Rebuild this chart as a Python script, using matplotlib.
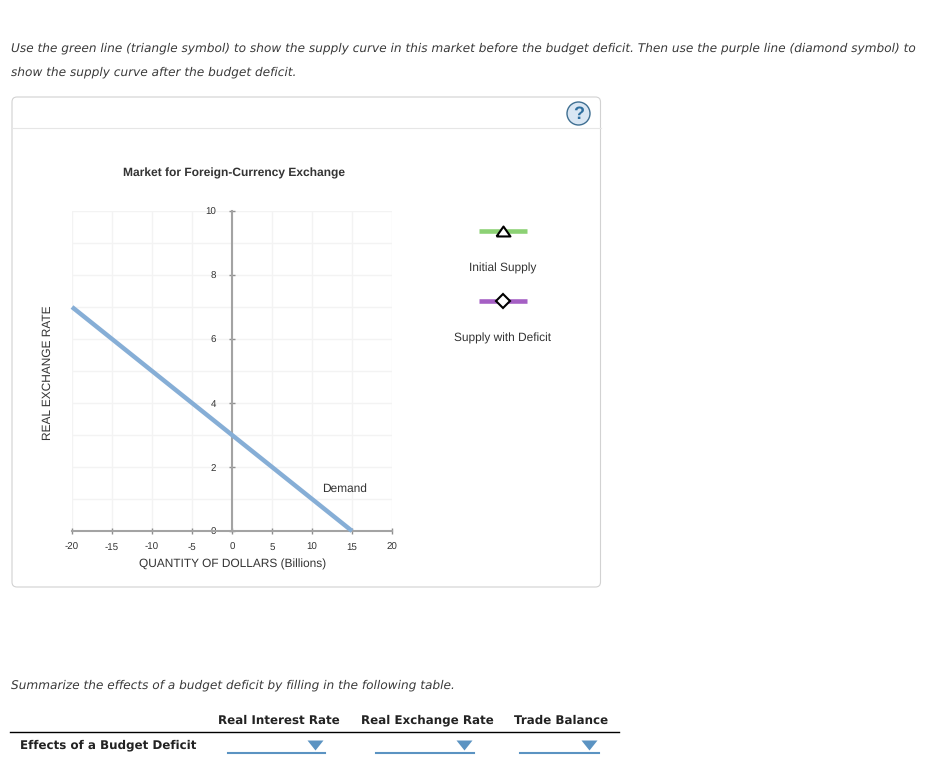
import matplotlib
matplotlib.use('Agg')
import matplotlib.pyplot as plt
from matplotlib.patches import FancyBboxPatch, Circle

plt.rcParams['font.family'] = 'Liberation Sans'
plt.rcParams['axes.unicode_minus'] = False
plt.rcParams['text.hinting'] = 'no_hinting'

W, H = 926, 779

# data
demand_x = [-20, 15]
demand_y = [7, 0]
x_ticks = [-20, -15, -10, -5, 0, 5, 10, 15, 20]
y_ticks = [0, 2, 4, 6, 8, 10]
y_grid = [0, 1, 2, 3, 4, 5, 6, 7, 8, 9, 10]
table_headers = ['Real Interest Rate', 'Real Exchange Rate', 'Trade Balance']
table_row = 'Effects of a Budget Deficit'

fig = plt.figure(figsize=(W / 100, H / 100), dpi=100, facecolor='white')

# overlay in pixel coords for the page parts
page = fig.add_axes([0, 0, 1, 1])
page.set_xlim(0, W)
page.set_ylim(H, 0)
page.axis('off')

TXT = '#333333'
prompt = dict(family='DejaVu Sans', style='italic', fontsize=8.69, color='#3a3a3a', va='center')
page.text(11, 48, 'Use the green line (triangle symbol) to show the supply curve in this market before the budget deficit. '
          'Then use the purple line (diamond symbol) to', **prompt)
page.text(11, 72, 'show the supply curve after the budget deficit.', **prompt)
page.text(11, 685, 'Summarize the effects of a budget deficit by filling in the following table.', **prompt)

# panel
panel = FancyBboxPatch((12, 97), 588.5, 490, boxstyle='round,pad=0,rounding_size=5',
                       fc='white', ec='#d2d2d2', lw=0.8)
page.add_patch(panel)
page.plot([12, 600.5], [128, 128], color='#e6e6e6', lw=0.8)

# help button
page.add_patch(Circle((578.5, 113.5), 11.5, fc='#d9e6f3', ec='#3f6f92', lw=1))
page.text(578.5, 114, '?', fontsize=13, fontweight='bold', color='#2f6f9f', ha='center', va='center')

# legend
sans = dict(color=TXT)
flat_triangle = [(-7, -5), (7, -5), (0, 5), (-7, -5)]
page.plot([479, 527], [231, 231], color='#8cd174', lw=3.3, solid_capstyle='butt')
page.plot([503], [231], marker=flat_triangle, ms=10, mfc='white', mec='black', mew=1.5)
page.text(503, 268, 'Initial Supply', ha='center', va='center', fontsize=8.6, **sans)
page.plot([479, 527], [301, 301], color='#a55fc4', lw=3.3, solid_capstyle='butt')
page.plot([503], [301], marker='D', ms=7, mfc='white', mec='black', mew=1.5)
page.text(503, 338, 'Supply with Deficit', ha='center', va='center', fontsize=8.6, **sans)

page.text(234.5, 173.5, 'Market for Foreign-Currency Exchange', ha='center', va='center',
          fontsize=8.65, fontweight='bold', **sans)
page.text(47.5, 373, 'REAL EXCHANGE RATE', rotation=90, ha='center', va='center', fontsize=8.6, **sans)
page.text(232.5, 564.5, 'QUANTITY OF DOLLARS (Billions)', ha='center', va='center', fontsize=8.6, **sans)

# chart
ax = fig.add_axes([72 / W, 1 - 531 / H, 320 / W, 320 / H])
ax.patch.set_alpha(0)
ax.set_xlim(-20, 20)
ax.set_ylim(0, 10)
for v in x_ticks:
    ax.axvline(v, color='#f3f3f3', lw=1, zorder=0)
for v in y_grid:
    ax.axhline(v, color='#f3f3f3', lw=1, zorder=0)
for side in ['top', 'right']:
    ax.spines[side].set_visible(False)
ax.spines['left'].set_position(('data', 0))
ax.spines['bottom'].set_position(('data', 0))
for side in ['left', 'bottom']:
    ax.spines[side].set_color('#a3a3a3')
    ax.spines[side].set_linewidth(1.5)
ax.set_xticks(x_ticks)
ax.set_yticks(y_ticks)
ax.tick_params(axis='x', direction='inout', length=4.5, width=1, color='#8f8f8f', pad=6.2,
               labelsize=7, labelcolor=TXT)
ax.tick_params(axis='y', direction='inout', length=4.5, width=1, color='#8f8f8f', pad=9,
               labelsize=7, labelcolor=TXT)
ax.plot(demand_x, demand_y, color='#86aed6', lw=3.2, solid_capstyle='butt', zorder=3, clip_on=False)
ax.text(14.1, 1.31, 'Demand', ha='center', va='center', fontsize=8.6, color=TXT)

# table
bold = dict(family='DejaVu Sans', fontweight='bold', color='#222222', va='baseline', ha='center')
page.text(278.5, 723.5, table_headers[0], fontsize=8.6, **bold)
page.text(427, 723.5, table_headers[1], fontsize=8.6, **bold)
page.text(561, 723.5, table_headers[2], fontsize=8.6, **bold)
page.plot([10, 619], [731.5, 731.5], color='black', lw=1)
page.text(108.5, 748.5, table_row, fontsize=8.55, **bold)
flat_arrow = [(-8, 5), (8, 5), (0, -5), (-8, 5)]
for x0, x1, xa in [(228, 325, 314.5), (376, 474, 463.5), (520, 599, 588.5)]:
    page.plot([x0, x1], [752.5, 752.5], color='#5b93c2', lw=1.5)
    page.plot([xa], [744.5], marker=flat_arrow, ms=11.5, color='#5b93c2', mec='none')

fig.savefig('out.png', dpi=100)
